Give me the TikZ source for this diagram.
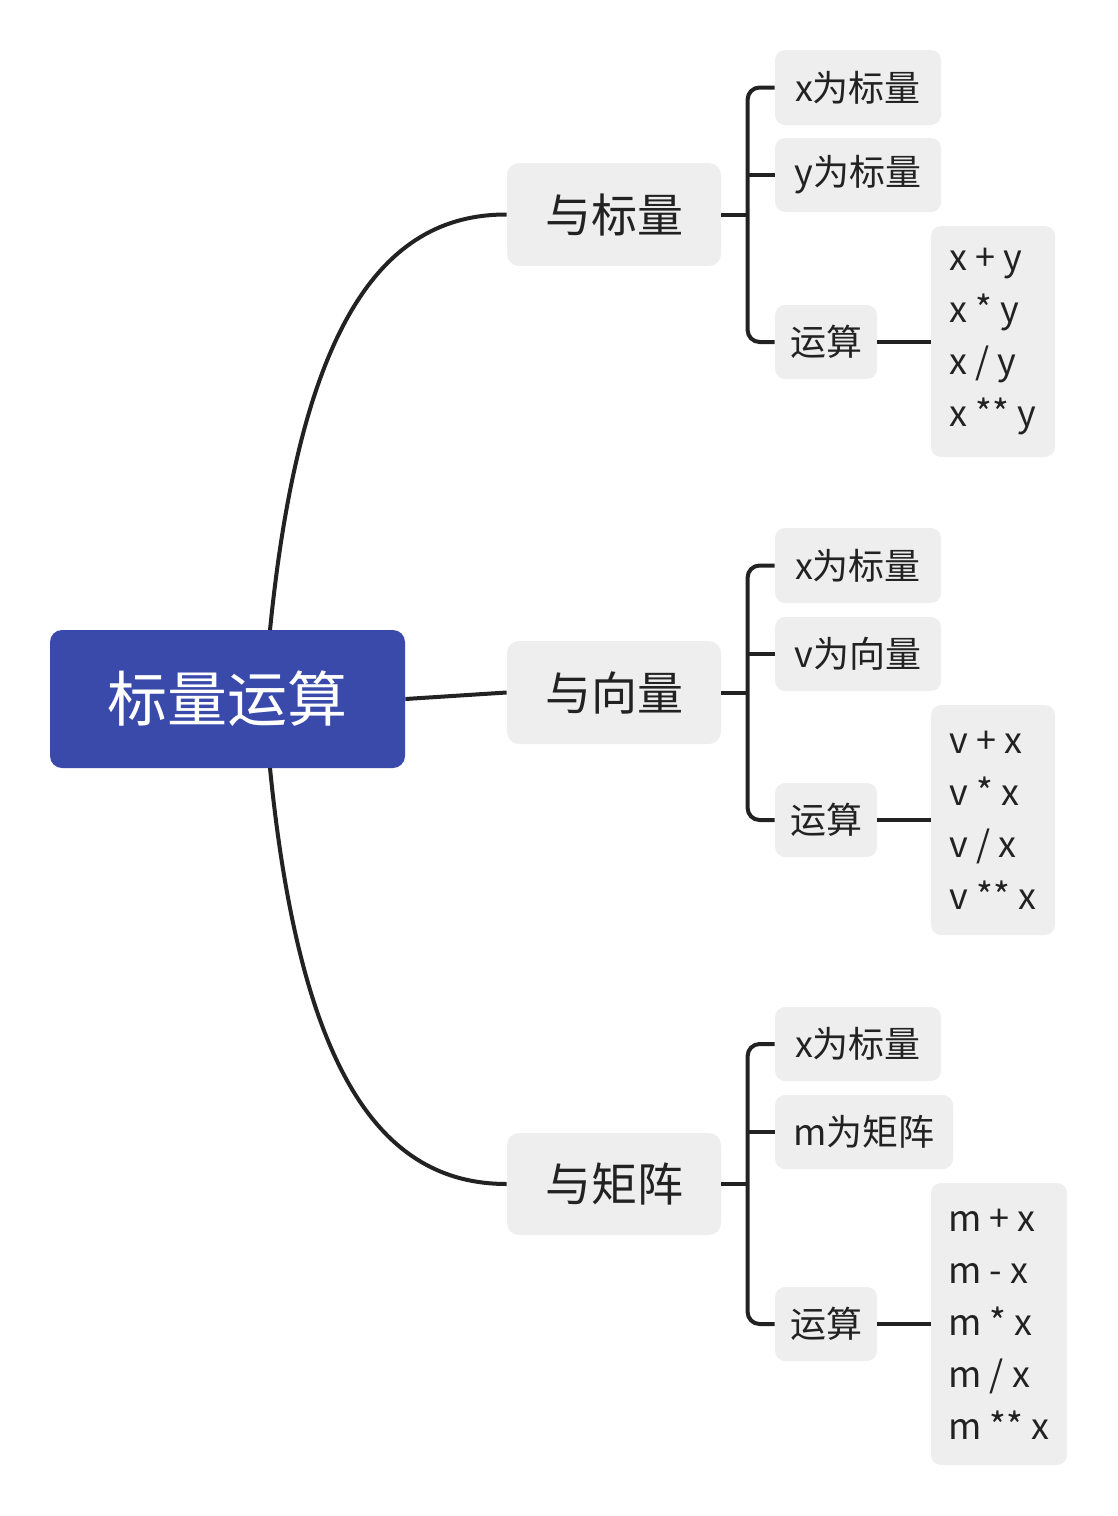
\documentclass[tikz,border=0pt]{standalone}
\usepackage{fontspec}
\setmainfont{Noto Sans CJK SC}
\definecolor{rootblue}{HTML}{3A4AAA}
\definecolor{boxgray}{HTML}{EEEEEE}
\definecolor{inkdark}{HTML}{222222}
\tikzset{
  rootbox/.style={fill=rootblue,rounded corners=6pt,text=white,font=\fontsize{30}{36}\selectfont},
  mainbox/.style={fill=boxgray,rounded corners=6pt,text=inkdark,font=\fontsize{23}{28}\selectfont},
  leafbox/.style={fill=boxgray,rounded corners=5pt,text=inkdark,font=\fontsize{18}{22}\selectfont,inner sep=0pt},
  listbox/.style={fill=boxgray,rounded corners=5pt,text=inkdark,font=\fontsize{18}{26}\selectfont,align=left,inner sep=0pt},
  conn/.style={line width=2pt,color=inkdark},
}
\newcommand*{\boxat}[5]{% name, style, x1,y1 / x2,y2, text
  \node[#2,minimum width={(#4)*0.5pt},minimum height={(#5)*0.5pt}] (#1) at (#3) {};}
\begin{document}
\begin{tikzpicture}[x=0.5pt,y=-0.5pt]
\useasboundingbox (0,0) rectangle (1118,1516);
% root
\node[rootbox,minimum width=177.5pt,minimum height=69pt] (root) at (227.5,699) {标量运算};
% main topics
\node[mainbox,minimum width=107pt,minimum height=51.5pt] (scal) at (614,214.5) {与标量};
\node[mainbox,minimum width=107pt,minimum height=51.5pt] (vect) at (614,692.5) {与向量};
\node[mainbox,minimum width=107pt,minimum height=51pt] (matr) at (614,1184) {与矩阵};
% subtopics
\node[leafbox,minimum width=83pt,minimum height=37.5pt] (sa) at (858,87.5) {x为标量};
\node[leafbox,minimum width=83pt,minimum height=37pt] (sb) at (858,175) {y为标量};
\node[leafbox,minimum width=51pt,minimum height=37pt] (sc) at (826,342) {运算};
\node[listbox,minimum width=62pt,minimum height=115.5pt] (sl) at (993,341.5) {x + y\\x * y\\x / y\\x ** y};
\node[leafbox,minimum width=83pt,minimum height=37.5pt] (va) at (858,565.5) {x为标量};
\node[leafbox,minimum width=83pt,minimum height=37pt] (vb) at (858,654) {v为向量};
\node[leafbox,minimum width=51pt,minimum height=37pt] (vc) at (826,820) {运算};
\node[listbox,minimum width=62pt,minimum height=115pt] (vl) at (993,820) {v + x\\v * x\\v / x\\v ** x};
\node[leafbox,minimum width=83pt,minimum height=37pt] (ma) at (858,1044) {x为标量};
\node[leafbox,minimum width=89pt,minimum height=37pt] (mb) at (864,1132) {m为矩阵};
\node[leafbox,minimum width=51pt,minimum height=37pt] (mc) at (826,1324) {运算};
\node[listbox,minimum width=68pt,minimum height=141pt] (ml) at (999,1324) {m + x\\m - x\\m * x\\m / x\\m ** x};
% root connectors
\coordinate (rt) at (270,630);
\coordinate (rb) at (270,768);
\draw[conn] (rt) .. controls (300,330) and (380,214) .. (scal.west);
\draw[conn] (root.east) -- (vect.west);
\draw[conn] (rb) .. controls (300,1070) and (380,1184) .. (matr.west);
% brackets
\foreach \m/\a/\b/\c/\l in {scal/sa/sb/sc/sl,vect/va/vb/vc/vl,matr/ma/mb/mc/ml}{
  \draw[conn] (\m.east) -- ++(27,0);
  \draw[conn,rounded corners=6pt] (\a.west) -- ++(-27,0) |- (\c.west);
  \draw[conn] (\b.west) -- ++(-27,0);
  \draw[conn] (\c.east) -- (\l.west |- \c.east);
}
\end{tikzpicture}
\end{document}
